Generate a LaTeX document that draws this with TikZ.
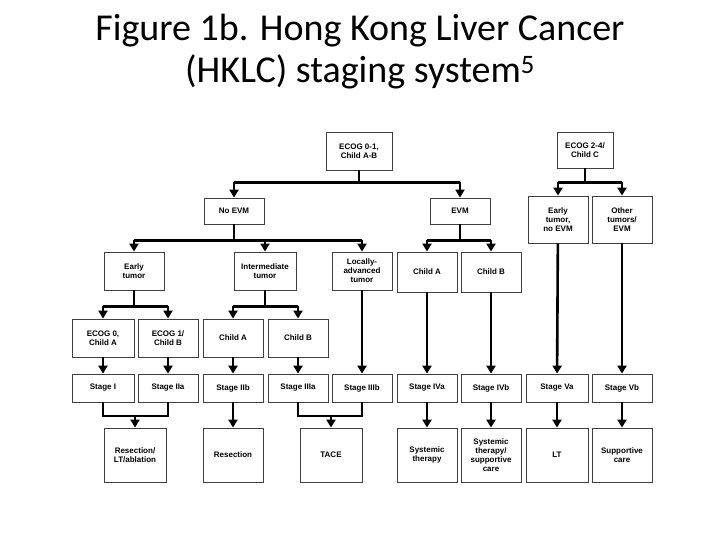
\documentclass[tikz,border=0pt]{standalone}
\usepackage{fontspec}
\setmainfont{Liberation Sans}
\newfontfamily\titlefont{Carlito}
\usetikzlibrary{arrows.meta}
\begin{document}
\begin{tikzpicture}[x=1pt,y=-1pt,
  bx/.style={draw=black!75,line width=0.8pt,inner sep=0pt},
  tx/.style={inner sep=0pt,align=center,font=\fontsize{8}{9}\selectfont\bfseries},
  ln/.style={line width=2.6pt},
  ar/.style={line width=2.6pt,-{Triangle[length=8pt,width=9pt]}}]
\useasboundingbox (0,0) rectangle (720,540);
\node[font=\titlefont\fontsize{38}{42}\selectfont,align=center] (title) at (360,52) {Figure 1b. Hong Kong Liver Cancer\\(HKLC) staging system\textsuperscript{5}};
\newcommand{\mybox}[6]{\node[bx,minimum width=#3-#2,minimum height=#5-#4] (#1) at ({(#2+#3)/2},{(#4+#5)/2}) {};
  \node[tx] (#1-t) at (#1.center) {#6};}
\mybox{e01}{326}{392}{132}{170}{ECOG 0-1,\\Child A-B}
\mybox{e24}{557}{613}{132}{168}{ECOG 2-4/\\Child C}
\mybox{noevm}{204}{264}{198}{224}{No EVM}
\mybox{evm}{430}{490}{198}{224}{EVM}
\mybox{etn}{528}{588}{196}{243}{Early\\tumor,\\no EVM}
\mybox{oth}{592}{652}{196}{243}{Other\\tumors/\\EVM}
\mybox{early}{104}{164}{252}{290}{Early\\tumor}
\mybox{inter}{234}{296}{252}{290}{Intermediate\\tumor}
\mybox{loc}{332}{392}{252}{290}{Locally-\\advanced\\tumor}
\mybox{ca1}{397}{457}{252}{292}{Child A}
\mybox{cb1}{461}{521}{252}{292}{Child B}
\mybox{e0}{72}{134}{319}{357}{ECOG 0,\\Child A}
\mybox{e1}{138}{198}{319}{357}{ECOG 1/\\Child B}
\mybox{ca2}{203}{263}{319}{357}{Child A}
\mybox{cb2}{268}{328}{319}{357}{Child B}
\mybox{s1}{72}{134}{374}{402}{Stage I}
\mybox{s2a}{138}{198}{374}{402}{Stage IIa}
\mybox{s2b}{203}{263}{374}{402}{Stage IIb}
\mybox{s3a}{268}{328}{374}{402}{Stage IIIa}
\mybox{s3b}{332}{392}{374}{402}{Stage IIIb}
\mybox{s4a}{397}{457}{374}{402}{Stage IVa}
\mybox{s4b}{461}{521}{374}{402}{Stage IVb}
\mybox{s5a}{526}{588}{374}{402}{Stage Va}
\mybox{s5b}{592}{652}{374}{402}{Stage Vb}
\mybox{t1}{104}{166}{428}{482}{Resection/\\LT/ablation}
\mybox{t2}{203}{263}{428}{482}{Resection}
\mybox{t3}{300}{362}{428}{482}{TACE}
\mybox{t4}{397}{457}{428}{482}{Systemic\\therapy}
\mybox{t5}{461}{521}{428}{482}{Systemic\\therapy/\\supportive\\care}
\mybox{t6}{526}{588}{428}{482}{LT}
\mybox{t7}{592}{652}{428}{482}{Supportive\\care}
\newcommand{\fork}[4]{\draw[ln] (#1.south) -- ++(0,#2) coordinate (m); \draw[ln] (#3.north |- m) -- (#4.north |- m);}
\fork{e01}{12}{noevm}{evm}
\draw[ar] (noevm.north |- 0,182) -- (noevm.north);
\draw[ar] (evm.north |- 0,182) -- (evm.north);
\fork{e24}{14}{etn}{oth}
\draw[ar] (etn.north |- 0,182) -- (etn.north);
\draw[ar] (oth.north |- 0,182) -- (oth.north);
\fork{noevm}{16}{early}{loc}
\foreach \n in {early,inter,loc} \draw[ar] (\n.north |- 0,240) -- (\n.north);
\fork{evm}{16}{ca1}{cb1}
\foreach \n in {ca1,cb1} \draw[ar] (\n.north |- 0,240) -- (\n.north);
\fork{early}{16}{e0}{e1}
\foreach \n in {e0,e1} \draw[ar] (\n.north |- 0,306) -- (\n.north);
\fork{inter}{16}{ca2}{cb2}
\foreach \n in {ca2,cb2} \draw[ar] (\n.north |- 0,306) -- (\n.north);
\draw[ar] (e0) -- (s1);
\draw[ar] (e1) -- (s2a);
\draw[ar] (ca2) -- (s2b);
\draw[ar] (cb2) -- (s3a);
\draw[ar] (loc) -- (s3b);
\draw[ar] (ca1) -- (s4a);
\draw[ar] (cb1) -- (s4b);
\draw[ar] (etn) -- (s5a);
\draw[ar] (oth) -- (s5b);
\draw[ln] (s1.south) -- (s1.south |- 0,416) -- (s2a.south |- 0,416) -- (s2a.south);
\draw[ar] (t1.north |- 0,416) -- (t1.north);
\draw[ar] (s2b) -- (t2);
\draw[ln] (s3a.south) -- (s3a.south |- 0,416) -- (s3b.south |- 0,416) -- (s3b.south);
\draw[ar] (t3.north |- 0,416) -- (t3.north);
\draw[ar] (s4a) -- (t4);
\draw[ar] (s4b) -- (t5);
\draw[ar] (s5a) -- (t6);
\draw[ar] (s5b) -- (t7);
\end{tikzpicture}
\end{document}
